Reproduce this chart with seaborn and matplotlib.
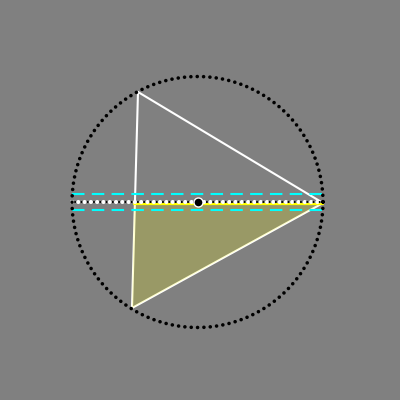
import numpy as np
import pandas as pd
import matplotlib
matplotlib.use('Agg')
import matplotlib.pyplot as plt
import seaborn as sns

#DATA
####################################################################################################

#Circle (centre and radius, pixel coordinates)
circle_center = [197.5, 202]
circle_radius = 125.5

#Triangle vertices
tri_x = [138, 323, 132]
tri_y = [92, 203, 308]

#Horizontal chord and the two cyan bands
chord_y = 203
chord_x = [72, 323]
band_y = [194, 210]

#Point where the chord meets the left side of the triangle
cut_x = 134

#PLOT
####################################################################################################

sns.set_theme(style='white')

fig = plt.figure(figsize=(4, 4), dpi=100)
fig.patch.set_facecolor('#808080')
ax = fig.add_axes([0, 0, 1, 1])
ax.set_facecolor('#808080')

def seg(xs, ys, **kw):
    #draw a raw polyline through seaborn, no aggregation
    df = pd.DataFrame({'x': xs, 'y': ys})
    sns.lineplot(data=df, x='x', y='y', sort=False, estimator=None, ax=ax, **kw)
    return ax.lines[-1]

#Triangle outline
seg(tri_x + [tri_x[0]], tri_y + [tri_y[0]], color='white', lw=1.5, zorder=1)

#Shaded lower part of the triangle
ax.fill([cut_x, tri_x[1], tri_x[2]], [chord_y, chord_y, tri_y[2]],
        color='yellow', alpha=0.2, lw=0, zorder=2)

#Cyan dashed bands
for yy in band_y:
    ln = seg(chord_x, [yy, yy], color='cyan', lw=1.5, zorder=3)
    ln.set_dashes([6, 3.5])

#Yellow part of the chord
seg([cut_x, chord_x[1]], [chord_y + 1, chord_y + 1], color='yellow', lw=1.6, zorder=4)

#Dotted chord (white dots with small black dots between)
ln = seg(chord_x, [chord_y - 1, chord_y - 1], color='white', lw=3.0, zorder=5)
ln.set_linestyle((0, (0.01, 1.5)))
ln.set_dash_capstyle('round')
ln = seg(chord_x, [chord_y - 1, chord_y - 1], color='black', lw=1.5, zorder=5)
ln.set_linestyle((1.5, (0.01, 3.0)))
ln.set_dash_capstyle('round')

#Dotted circle
t = np.linspace(0, 2 * np.pi, 400)
ln = seg(circle_center[0] + circle_radius * np.cos(t),
         circle_center[1] + circle_radius * np.sin(t), color='black', lw=2.6, zorder=6)
ln.set_linestyle((0, (0.01, 1.75)))
ln.set_dash_capstyle('round')

#Centre point
ax.plot([circle_center[0]], [circle_center[1]], 'o', ms=6.5, mfc='black', mec='white', mew=1, zorder=7)

ax.set_xlim(0, 400)
ax.set_ylim(400, 0)
ax.set_axis_off()

fig.savefig('out.png', dpi=100, facecolor='#808080')
